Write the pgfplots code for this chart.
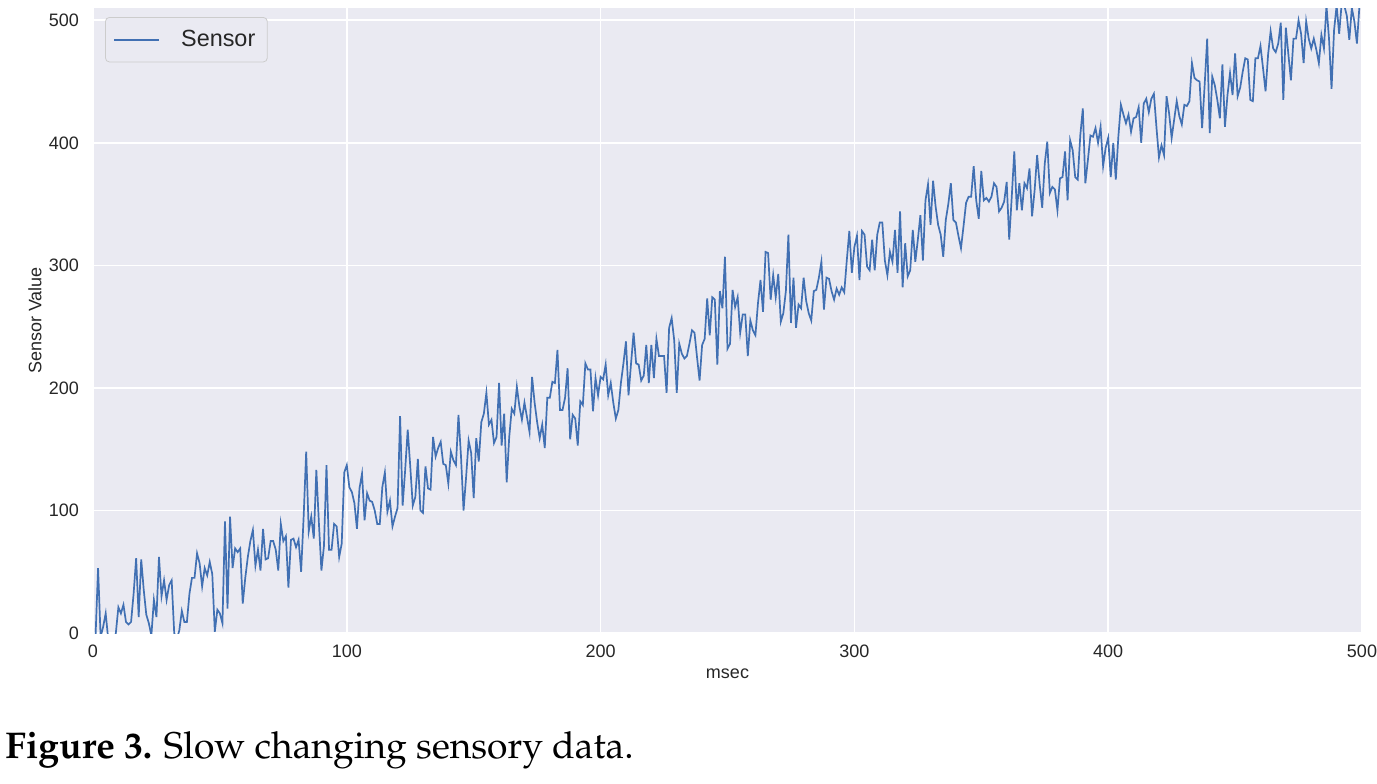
\documentclass[border=0pt]{standalone}
\usepackage[T1]{fontenc}
\usepackage{fontspec}
\setmainfont{Liberation Sans}
\usepackage{pgfplots}
\pgfplotsset{compat=1.18}
\definecolor{panelbg}{HTML}{EAEAF2}
\definecolor{sensorblue}{HTML}{4170B3}
\definecolor{labeltext}{HTML}{262626}
\definecolor{legendedge}{HTML}{CCCCCC}
\begin{document}
\begin{tikzpicture}
\begin{axis}[
  at={(0,0)}, anchor=south west,
  scale only axis, width=634.5pt, height=312.5pt,
  xmin=0, xmax=500, ymin=0, ymax=510,
  axis background/.style={fill=panelbg},
  axis line style={draw=none},
  major tick length=0pt,
  grid=major, grid style={white, line width=0.8pt},
  xtick={0,100,...,500}, ytick={0,100,...,500},
  tick label style={font=\fontsize{9}{10}\selectfont, text=labeltext},
  xticklabel style={yshift=-2.5pt},
  yticklabel style={xshift=-3.5pt},
  /pgf/number format/assume math mode=true,
  xlabel={msec}, ylabel={Sensor Value},
  label style={font=\fontsize{9}{10}\selectfont, text=labeltext},
  xlabel style={at={(axis description cs:0.5,-0.0656)}, anchor=center},
  ylabel style={at={(axis description cs:-0.0457,0.5)}, anchor=center, rotate=0},
  legend style={at={(axis description cs:0.0095,0.9856)}, anchor=north west,
    draw=legendedge, fill=panelbg, rounded corners=2pt,
    font=\fontsize{11.7}{13}\selectfont, text=labeltext,
    inner xsep=4pt, inner ysep=4.3pt, column sep=8.5pt},
  legend image code/.code={\draw[#1, line width=0.85pt] (0pt,0pt) -- (22.5pt,0pt);},
]
\addplot[sensorblue, line width=0.85pt] coordinates {
(0,-20)(1,-3)(2,53)(3,-3)(4,5)(5,16)(6,-5)(7,-15)(8,-8)(9,0)
(10,21)(11,16)(12,23)(13,9)(14,7)(15,9)(16,32)(17,61)(18,13)(19,60)
(20,35)(21,15)(22,8)(23,-2)(24,27)(25,13)(26,62)(27,30)(28,43)(29,27)
(30,39)(31,43)(32,0)(33,-5)(34,2)(35,18)(36,9)(37,9)(38,32)(39,45)
(40,45)(41,65)(42,57)(43,38)(44,53)(45,47)(46,58)(47,48)(48,1)(49,19)
(50,16)(51,8)(52,91)(53,20)(54,95)(55,53)(56,69)(57,66)(58,69)(59,24)
(60,45)(61,62)(62,75)(63,84)(64,55)(65,68)(66,51)(67,85)(68,60)(69,61)
(70,75)(71,75)(72,68)(73,51)(74,89)(75,75)(76,79)(77,37)(78,76)(79,77)
(80,70)(81,76)(82,50)(83,95)(84,148)(85,83)(86,95)(87,77)(88,133)(89,90)
(90,51)(91,71)(92,137)(93,68)(94,68)(95,89)(96,87)(97,62)(98,73)(99,131)
(100,137)(101,119)(102,115)(103,106)(104,85)(105,118)(106,130)(107,92)(108,114)(109,108)
(110,107)(111,100)(112,89)(113,89)(114,119)(115,131)(116,99)(117,108)(118,87)(119,95)
(120,102)(121,177)(122,104)(123,133)(124,166)(125,136)(126,104)(127,111)(128,142)(129,100)
(130,98)(131,136)(132,118)(133,117)(134,160)(135,144)(136,151)(137,156)(138,138)(139,137)
(140,122)(141,148)(142,141)(143,137)(144,178)(145,144)(146,100)(147,127)(148,157)(149,147)
(150,110)(151,159)(152,140)(153,172)(154,179)(155,196)(156,170)(157,174)(158,155)(159,160)
(160,204)(161,153)(162,179)(163,123)(164,160)(165,183)(166,179)(167,201)(168,185)(169,174)
(170,188)(171,176)(172,164)(173,209)(174,188)(175,172)(176,159)(177,170)(178,151)(179,192)
(180,192)(181,205)(182,204)(183,231)(184,182)(185,182)(186,192)(187,216)(188,158)(189,178)
(190,175)(191,153)(192,189)(193,186)(194,220)(195,215)(196,215)(197,181)(198,208)(199,194)
(200,209)(201,207)(202,219)(203,194)(204,204)(205,188)(206,175)(207,182)(208,204)(209,220)
(210,238)(211,194)(212,220)(213,245)(214,220)(215,219)(216,206)(217,210)(218,235)(219,204)
(220,235)(221,208)(222,240)(223,226)(224,226)(225,226)(226,196)(227,249)(228,257)(229,239)
(230,196)(231,236)(232,228)(233,224)(234,226)(235,236)(236,247)(237,245)(238,225)(239,206)
(240,235)(241,240)(242,273)(243,243)(244,274)(245,272)(246,219)(247,279)(248,265)(249,307)
(250,232)(251,236)(252,280)(253,266)(254,274)(255,245)(256,260)(257,260)(258,226)(259,255)
(260,247)(261,243)(262,269)(263,288)(264,262)(265,311)(266,310)(267,272)(268,292)(269,274)
(270,293)(271,254)(272,261)(273,279)(274,325)(275,253)(276,290)(277,249)(278,268)(279,265)
(280,290)(281,271)(282,261)(283,255)(284,279)(285,280)(286,290)(287,303)(288,264)(289,290)
(290,289)(291,279)(292,272)(293,281)(294,276)(295,282)(296,278)(297,304)(298,328)(299,294)
(300,315)(301,324)(302,288)(303,328)(304,325)(305,299)(306,296)(307,321)(308,296)(309,325)
(310,335)(311,335)(312,304)(313,292)(314,311)(315,303)(316,329)(317,294)(318,344)(319,282)
(320,318)(321,291)(322,296)(323,329)(324,303)(325,321)(326,341)(327,304)(328,353)(329,366)
(330,333)(331,369)(332,348)(333,333)(334,325)(335,307)(336,337)(337,350)(338,367)(339,337)
(340,335)(341,324)(342,314)(343,332)(344,351)(345,356)(346,356)(347,381)(348,353)(349,338)
(350,377)(351,353)(352,355)(353,352)(354,356)(355,367)(356,364)(357,344)(358,347)(359,352)
(360,368)(361,321)(362,356)(363,393)(364,345)(365,367)(366,345)(367,367)(368,363)(369,379)
(370,340)(371,361)(372,390)(373,366)(374,347)(375,383)(376,401)(377,359)(378,364)(379,362)
(380,345)(381,371)(382,372)(383,393)(384,353)(385,402)(386,394)(387,372)(388,370)(389,406)
(390,428)(391,367)(392,386)(393,406)(394,405)(395,412)(396,400)(397,413)(398,381)(399,396)
(400,404)(401,372)(402,400)(403,370)(404,405)(405,431)(406,423)(407,416)(408,423)(409,409)
(410,420)(411,421)(412,429)(413,400)(414,432)(415,436)(416,425)(417,436)(418,440)(419,413)
(420,388)(421,398)(422,390)(423,438)(424,424)(425,404)(426,419)(427,434)(428,422)(429,415)
(430,431)(431,430)(432,434)(433,465)(434,453)(435,451)(436,450)(437,412)(438,447)(439,485)
(440,408)(441,454)(442,447)(443,435)(444,420)(445,464)(446,413)(447,439)(448,457)(449,439)
(450,473)(451,438)(452,445)(453,458)(454,469)(455,468)(456,435)(457,434)(458,469)(459,469)
(460,479)(461,461)(462,442)(463,472)(464,491)(465,477)(466,474)(467,481)(468,498)(469,435)
(470,494)(471,472)(472,451)(473,485)(474,485)(475,500)(476,489)(477,465)(478,499)(479,485)
(480,477)(481,485)(482,476)(483,465)(484,488)(485,477)(486,512)(487,485)(488,444)(489,492)
(490,512)(491,489)(492,514)(493,512)(494,504)(495,484)(496,510)(497,499)(498,481)(499,512)
(500,515)
};
\addlegendentry{Sensor}
\end{axis}
\node[anchor=base west, inner sep=0pt,
  font=\fontencoding{T1}\fontfamily{ppl}\fontsize{18.6}{21}\selectfont]
  at (-44pt,-62.5pt) {{\fontseries{b}\selectfont Figure 3.} Slow changing sensory data.};
\pgfresetboundingbox
\path (-46.5pt,-75pt) rectangle (642pt,316.5pt);
\end{tikzpicture}
\end{document}
